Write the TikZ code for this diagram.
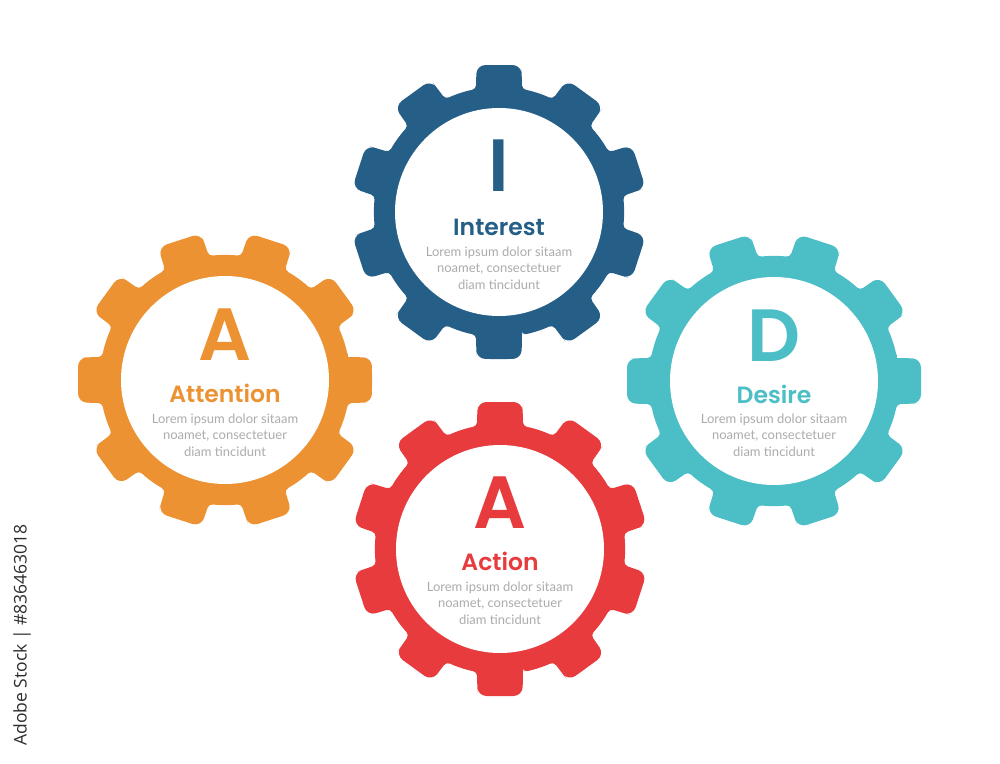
\documentclass[tikz,border=0pt]{standalone}
\usepackage{fontspec}
\setmainfont{Lato}
\newfontfamily\headfont{Poppins}[BoldFont={Poppins SemiBold}]
\newfontfamily\bodyfont{Lato}
\newfontfamily\markfont{Open Sans}
\definecolor{cblue}{RGB}{37,95,135}
\definecolor{corange}{RGB}{236,146,50}
\definecolor{cteal}{RGB}{76,190,197}
\definecolor{cred}{RGB}{231,59,61}
\definecolor{cgray}{RGB}{172,172,172}
\definecolor{cmark}{RGB}{45,45,45}
% #1,#2 centre, #3 angle of first tooth, #4 colour
\newcommand\drawgear[4]{%
  \begin{scope}[shift={(#1,#2)}]
    \fill[#4] (#3-10.6:125)
      \foreach \k in {0,...,9}{
        [rounded corners=4pt] -- (#3+36*\k-9.57:136.9)
        [rounded corners=9pt] -- (#3+36*\k-8.7:148.7)
        -- (#3+36*\k:147)
        -- (#3+36*\k+8.7:148.7)
        -- (#3+36*\k+9.57:136.9)
        [rounded corners=4pt] -- (#3+36*\k+10.6:125)
        arc[start angle=#3+36*\k+10.6, end angle=#3+36*\k+25.4, radius=125]
      } -- cycle;
    \fill[white] (0,0) circle (104);
  \end{scope}}
\begin{document}
\begin{tikzpicture}[x=1pt,y=-1pt,
  bigletter/.style={font=\headfont\fontsize{74}{74}\selectfont\bfseries, inner sep=0pt},
  title/.style={font=\headfont\fontsize{23.5}{23.5}\selectfont\bfseries, inner sep=0pt},
  body/.style={font=\bodyfont\fontsize{13}{16.5}\selectfont, text=cgray, align=center, inner sep=0pt}]
\useasboundingbox[fill=white] (0,0) rectangle (1000,763);
% gears
\drawgear{499}{212}{90}{cblue}
\drawgear{225}{380}{0}{corange}
\drawgear{774}{381}{0}{cteal}
\drawgear{500}{549}{90}{cred}
% Interest
\node[bigletter, text=cblue] (li) at (499,166) {I};
\node[title, text=cblue] (ti) at (499,227) {Interest};
\node[body] (bi) at (499,268) {Lorem ipsum dolor sitaam\\noamet, consectetuer\\diam tincidunt};
% Attention
\node[bigletter, text=corange] (la) at (225,335) {A};
\node[title, text=corange] (ta) at (225,393) {Attention};
\node[body] (ba) at (225,435) {Lorem ipsum dolor sitaam\\noamet, consectetuer\\diam tincidunt};
% Desire
\node[bigletter, text=cteal] (ld) at (774,336) {D};
\node[title, text=cteal] (td) at (774,394) {Desire};
\node[body] (bd) at (774,435) {Lorem ipsum dolor sitaam\\noamet, consectetuer\\diam tincidunt};
% Action
\node[bigletter, text=cred] (lc) at (500,503) {A};
\node[title, text=cred] (tc) at (500,561) {Action};
\node[body] (bc) at (500,603) {Lorem ipsum dolor sitaam\\noamet, consectetuer\\diam tincidunt};
% vertical stock label
\node[rotate=90, font=\markfont\fontsize{17.5}{17.5}\selectfont, text=cmark, inner sep=0pt] (mark) at (22,635) {Adobe Stock | \#836463018};
\end{tikzpicture}
\end{document}
